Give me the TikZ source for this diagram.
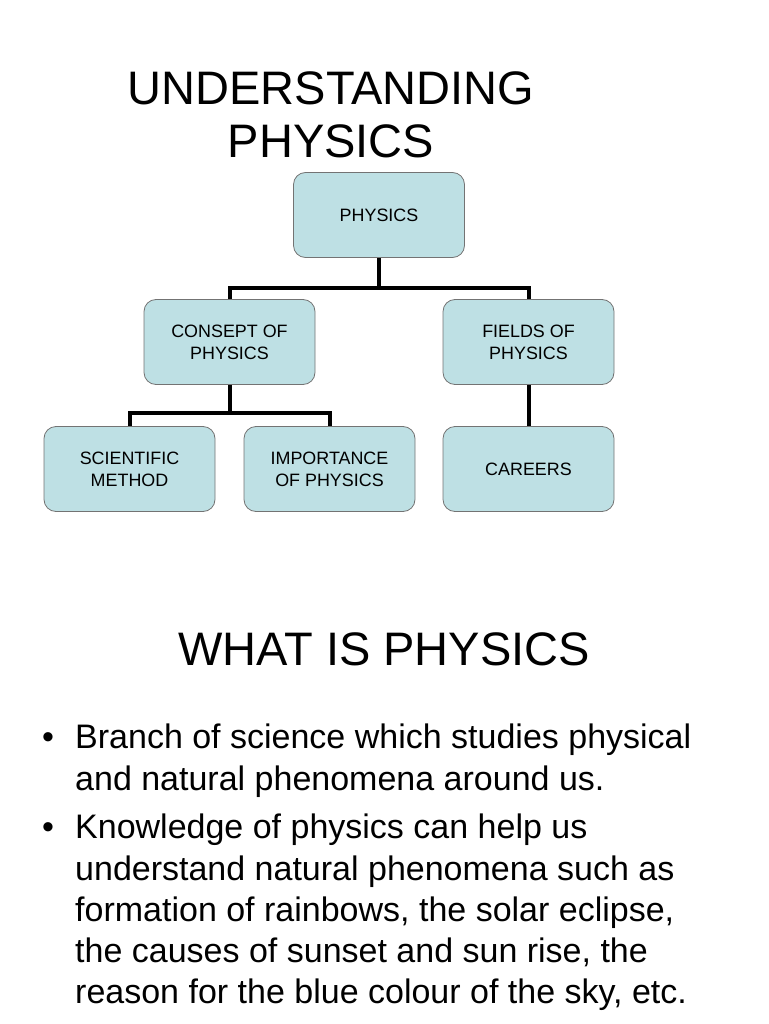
\documentclass[tikz,border=0pt]{standalone}
\usepackage{fontspec}
\setmainfont{Liberation Sans}
\begin{document}
\begin{tikzpicture}[x=1pt,y=-1pt,
  box/.style={draw=black!55,line width=0.8pt,fill={rgb,255:red,190;green,224;blue,228},rounded corners=12pt,minimum width=171pt,minimum height=85pt,align=center,font=\fontsize{17.9}{22}\selectfont},
  conn/.style={line width=4pt},
  title/.style={font=\fontsize{47}{54}\selectfont,anchor=base},
  txt/.style={font=\fontsize{34}{38}\selectfont,anchor=base west,inner sep=0pt}]
\useasboundingbox (0,0) rectangle (768,1024);
\node[title] (t1) at (331,105) {UNDERSTANDING};
\node[title] (t2) at (331,158) {PHYSICS};
\node[box] (p) at (379,215) {PHYSICS};
\node[box] (c) at (229.5,342) {CONSEPT OF\\PHYSICS};
\node[box] (f) at (528.5,342) {FIELDS OF\\PHYSICS};
\node[box] (s) at (129.5,469) {SCIENTIFIC\\METHOD};
\node[box] (i) at (329.5,469) {IMPORTANCE\\OF PHYSICS};
\node[box] (k) at (528.5,469) {CAREERS};
\draw[conn] (p.south) -- ++(0,30) -| (c.north);
\draw[conn] (p.south) ++(0,30) -| (f.north);
\draw[conn] (c.south) -- ++(0,28) -| (s.north);
\draw[conn] (c.south) ++(0,28) -| (i.north);
\draw[conn] (f.south) -- (k.north);
\node[title] (w) at (384,665) {WHAT IS PHYSICS};
\node[txt] (b1) at (42,748) {•};
\node[txt] (l1) at (75,748) {Branch of science which studies physical};
\node[txt] (l2) at (75,790) {and natural phenomena around us.};
\node[txt] (b2) at (42,838) {•};
\node[txt] (l3) at (75,838) {Knowledge of physics can help us};
\node[txt] (l4) at (75,880) {understand natural phenomena such as};
\node[txt] (l5) at (75,921) {formation of rainbows, the solar eclipse,};
\node[txt] (l6) at (75,962) {the causes of sunset and sun rise, the};
\node[txt] (l7) at (75,1003) {reason for the blue colour of the sky, etc.};
\end{tikzpicture}
\end{document}
